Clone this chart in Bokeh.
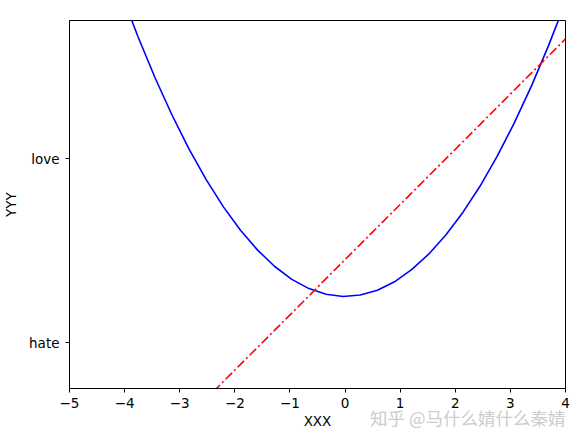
from bokeh.plotting import figure
from bokeh.models import FixedTicker, Range1d, Title
from bokeh.embed import file_html
from bokeh.resources import INLINE

# data
x = [-5.000, -4.690, -4.379, -4.069, -3.759, -3.448, -3.138, -2.828, -2.517, -2.207,
     -1.897, -1.586, -1.276, -0.966, -0.655, -0.345, -0.034, 0.276, 0.586, 0.897,
     1.207, 1.517, 1.828, 2.138, 2.448, 2.759, 3.069, 3.379, 3.690, 4.000]
y_curve = [25.00, 22.00, 19.18, 16.56, 14.13, 11.89, 9.85, 8.00, 6.34, 4.87,
           3.60, 2.52, 1.63, 0.93, 0.43, 0.12, 0.00, 0.08, 0.34, 0.80,
           1.46, 2.30, 3.34, 4.57, 5.99, 7.61, 9.42, 11.42, 13.62, 16.00]
y_line = [-13.00, -12.07, -11.14, -10.21, -9.28, -8.34, -7.41, -6.48, -5.55, -4.62,
          -3.69, -2.76, -1.83, -0.90, 0.03, 0.97, 1.90, 2.83, 3.76, 4.69,
          5.62, 6.55, 7.48, 8.41, 9.34, 10.28, 11.21, 12.14, 13.07, 14.00]
x_ticks = [-5, -4, -3, -2, -1, 0, 1, 2, 3, 4]
x_tick_labels = ["\u22125", "\u22124", "\u22123", "\u22122", "\u22121", "0", "1", "2", "3", "4"]
y_ticks = [-2.5, 7.5]
y_tick_labels = ["hate", "love"]
watermark = "知乎 @马什么婧什么秦婧"

FONT = "DejaVu Sans"
FS = "13.5px"

p = figure(frame_width=496, frame_height=368, output_backend="svg", toolbar_location=None,
           x_range=Range1d(-5, 4), y_range=Range1d(-5, 15),
           min_border_left=69, min_border_right=6, min_border_top=20, min_border_bottom=49)

p.line(x, y_curve, line_color="blue", line_width=1.6)
p.line(x, y_line, line_color="red", line_width=1.6, line_dash="9 3 2 3")

p.grid.visible = False
p.outline_line_color = "black"
p.outline_line_width = 1
p.outline_line_alpha = 1

for ax in (p.xaxis[0], p.yaxis[0]):
    ax.axis_line_color = "black"
    ax.major_tick_line_color = "black"
    ax.minor_tick_line_color = None
    ax.major_tick_in = 0
    ax.major_tick_out = 4
    ax.major_label_text_font = FONT
    ax.major_label_text_font_size = FS
    ax.major_label_text_color = "black"
    ax.axis_label_text_font = FONT
    ax.axis_label_text_font_size = FS
    ax.axis_label_text_font_style = "normal"
    ax.axis_label_text_color = "black"

p.xaxis.ticker = FixedTicker(ticks=x_ticks)
p.xaxis.major_label_overrides = {t: l for t, l in zip(x_ticks, x_tick_labels)}
p.xaxis.major_label_standoff = 5
p.xaxis.axis_label = "XXX"
p.xaxis.axis_label_standoff = 2

p.yaxis.ticker = FixedTicker(ticks=y_ticks)
p.yaxis.major_label_overrides = {t: l for t, l in zip(y_ticks, y_tick_labels)}
p.yaxis.major_label_standoff = 6
p.yaxis.axis_label = "YYY"
p.yaxis.axis_label_standoff = 7

wm = Title(text=watermark, align="right", vertical_align="top", standoff=-54,
           text_font="Noto Sans CJK SC", text_font_size="17.5px", text_color="#cccccc",
           text_font_style="normal")
p.add_layout(wm, "below")

open("out.html", "w").write(file_html(p, INLINE))
